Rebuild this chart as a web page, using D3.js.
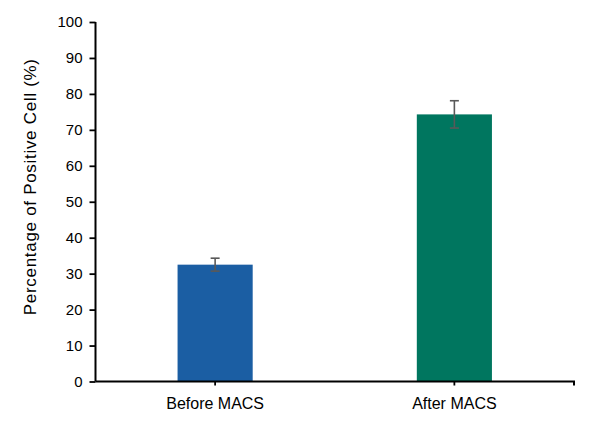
<!DOCTYPE html>
<html>
<head>
<meta charset="utf-8">
<script src="https://cdn.jsdelivr.net/npm/d3@7"></script>
<style>
  body { margin: 0; background: #fff; }
  text { font-family: "Liberation Sans", Arial, sans-serif; fill: #000; }
</style>
</head>
<body>
<div id="chart"></div>
<script>
// chart data
const categories = ["Before MACS", "After MACS"];
const values = [32.5, 74.3];
const errors = [1.8, 3.8];
const barColors = ["#1b5ea3", "#00765f"];
const yTicks = [0, 10, 20, 30, 40, 50, 60, 70, 80, 90, 100];

const width = 597;
const height = 424;
const margin = { top: 22, right: 23, bottom: 42.5, left: 95.5 };

const svg = d3.select("#chart")
  .append("svg")
  .attr("width", width)
  .attr("height", height);

const x = d3.scaleBand()
  .domain(categories)
  .range([margin.left, width - margin.right])
  .paddingInner(0.686)
  .paddingOuter(0.343);

const y = d3.scaleLinear()
  .domain([0, 100])
  .range([height - margin.bottom, margin.top]);

// bars
svg.selectAll("rect.bar")
  .data(categories)
  .enter()
  .append("rect")
  .attr("class", "bar")
  .attr("x", d => x(d))
  .attr("width", x.bandwidth())
  .attr("y", (d, i) => y(values[i]))
  .attr("height", (d, i) => y(0) - y(values[i]))
  .attr("fill", (d, i) => barColors[i]);

// error bars
const err = svg.selectAll("g.err")
  .data(categories)
  .enter()
  .append("g")
  .attr("class", "err")
  .attr("stroke", "#595959")
  .attr("stroke-width", 1.6);

const cx = d => x(d) + x.bandwidth() / 2;

err.append("line")
  .attr("x1", cx).attr("x2", cx)
  .attr("y1", (d, i) => y(values[i] + errors[i]))
  .attr("y2", (d, i) => y(values[i] - errors[i]));
err.append("line")
  .attr("x1", d => cx(d) - 4.5).attr("x2", d => cx(d) + 4.5)
  .attr("y1", (d, i) => y(values[i] + errors[i]))
  .attr("y2", (d, i) => y(values[i] + errors[i]));
err.append("line")
  .attr("x1", d => cx(d) - 4.5).attr("x2", d => cx(d) + 4.5)
  .attr("y1", (d, i) => y(values[i] - errors[i]))
  .attr("y2", (d, i) => y(values[i] - errors[i]));

// y axis
const yAxis = svg.append("g")
  .attr("transform", `translate(${margin.left},0)`)
  .call(d3.axisLeft(y).tickValues(yTicks).tickSize(6).tickPadding(7));
yAxis.select(".domain").attr("stroke", "#000").attr("stroke-width", 2)
  .attr("d", `M0,${y(0)}V${y(100)}`);
yAxis.selectAll(".tick line").attr("stroke", "#000").attr("stroke-width", 1.8);
yAxis.selectAll(".tick text")
  .attr("font-size", 15)
  .attr("font-family", "Liberation Sans, Arial, sans-serif")
  .attr("fill", "#000");

// x axis
const xAxis = svg.append("g")
  .attr("transform", `translate(0,${y(0)})`)
  .call(d3.axisBottom(x).tickSize(4).tickPadding(12));
xAxis.select(".domain").attr("stroke", "#000").attr("stroke-width", 2)
  .attr("d", `M${margin.left},0H${width - margin.right}V4`);
xAxis.selectAll(".tick line").attr("stroke", "#000").attr("stroke-width", 1.8);
xAxis.selectAll(".tick text")
  .attr("font-size", 16)
  .attr("font-family", "Liberation Sans, Arial, sans-serif")
  .attr("fill", "#000");

// y axis title
svg.append("text")
  .attr("transform", `translate(36,${(margin.top + height - margin.bottom) / 2 - 15}) rotate(-90)`)
  .attr("text-anchor", "middle")
  .attr("font-size", 17)
  .attr("letter-spacing", 0.7)
  .text("Percentage of Positive Cell (%)");
</script>
</body>
</html>
